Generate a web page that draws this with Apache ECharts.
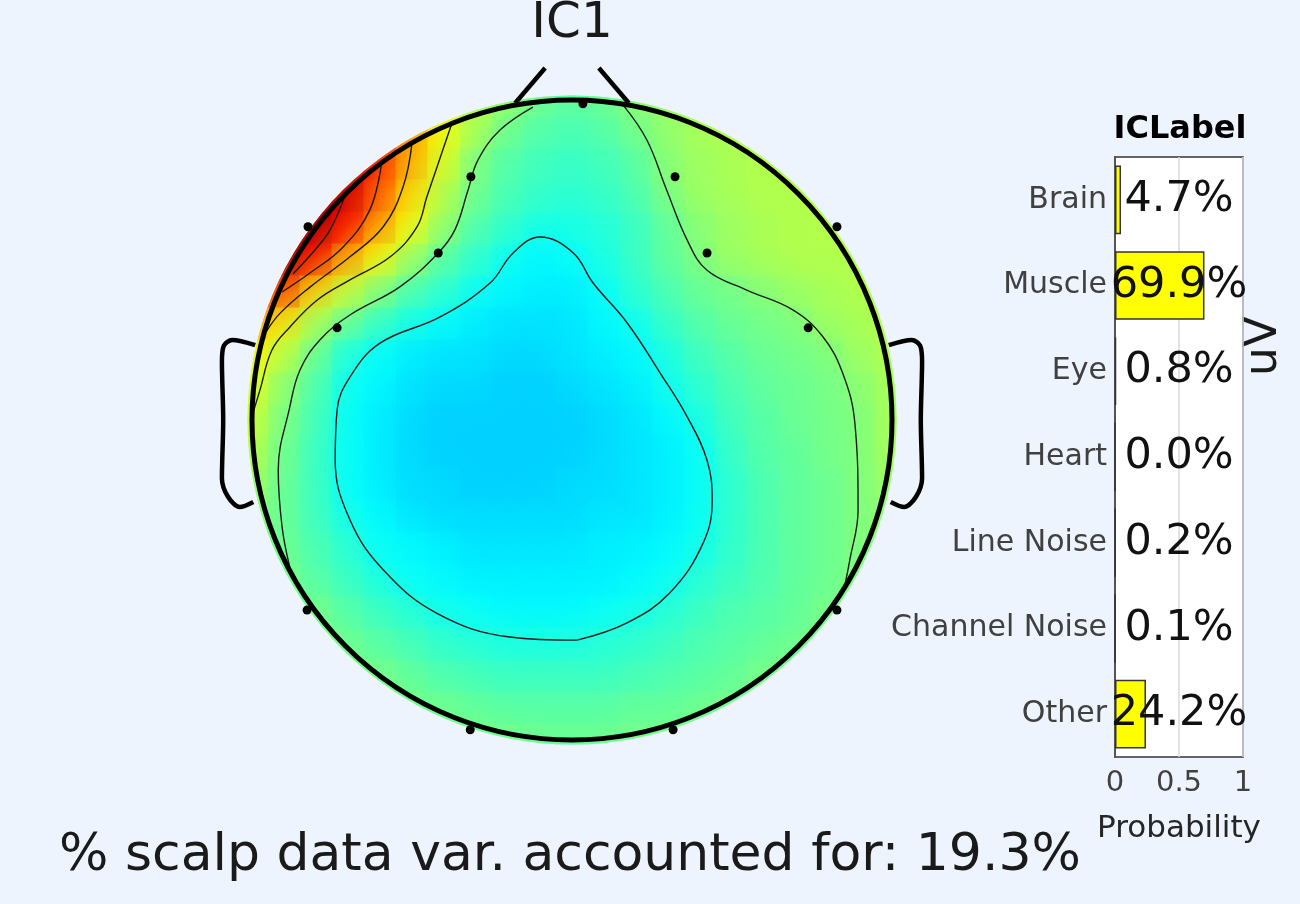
<!DOCTYPE html>
<html>
<head>
<meta charset="utf-8">
<script src="https://cdn.jsdelivr.net/npm/echarts@6/dist/echarts.min.js"></script>
<style>
html, body { margin: 0; background: #eef4fd; }
#chart { width: 1300px; height: 904px; }
</style>
</head>
<body>
<div id="chart"></div>
<script>
// ICLabel probabilities
const categories = ['Brain', 'Muscle', 'Eye', 'Heart', 'Line Noise', 'Channel Noise', 'Other'];
const probabilities = [0.047, 0.699, 0.008, 0.000, 0.002, 0.001, 0.242];
const probTicks = [0, 0.5, 1];
const componentName = 'IC1';
const varianceText = '% scalp data var. accounted for: 19.3%';

// scalp map on a 0.05 grid (head radius 0.5), jet scale 0-100
// rows go front (nose) to back, columns left to right
const gridStart = -0.5;
const gridStep = 0.05;
const mapRows = [
  [null,null,null,null,null,null,60,55,52,49,47,48,51,53,54,null,null,null,null,null,null],
  [null,null,null,null,82,72,62,55,49,46,45,46,49,52,54,55,55,null,null,null,null],
  [null,null,null,90,84,71,60,50,46,44,43,44,46,51,53,54,55,55,null,null,null],
  [null,null,95,93,80,66,56,49,45,43,42,43,45,50,53,54,55,55,55,null,null],
  [null,97,96,87,73,62,53,46,43,40,40,41,43,47,51,53,54,55,55,55,null],
  [null,95,88,72,63,54,47,43,39,37,38,40,43,47,50,53,54,55,55,55,null],
  [82,83,67,58,52,46,43,39,37,36,36,38,42,45,48,49,51,53,54,55,55],
  [72,65,55,49,44,40,38,36,35,35,35,37,39,43,46,48,49,50,53,54,55],
  [63,57,49,41,38,36,35,35,34,34,35,36,37,40,44,46,48,49,50,53,55],
  [60,52,46,39,37,35,34,34,33,33,34,35,36,39,42,45,47,48,49,51,54],
  [58,50,45,38,36,34,33,33,33,33,33,34,35,37,40,44,46,48,49,50,54],
  [56,49,44,38,36,34,33,33,33,33,33,34,35,36,38,43,46,47,49,50,54],
  [54,48,44,38,36,34,34,33,33,33,34,34,35,36,38,42,45,47,48,50,53],
  [52,48,44,39,37,35,34,34,34,34,34,35,35,36,38,42,45,47,48,50,52],
  [51,48,45,42,38,37,36,35,35,35,35,36,36,37,39,42,45,47,48,50,52],
  [null,50,46,43,40,38,37,36,36,36,36,36,37,38,41,43,45,47,48,50,null],
  [null,50,49,46,43,41,39,38,37,37,37,38,39,41,43,45,46,47,49,50,null],
  [null,null,50,48,46,44,42,41,40,40,40,41,42,43,45,46,47,48,50,null,null],
  [null,null,null,50,49,47,45,44,43,43,43,43,44,45,46,47,49,50,null,null,null],
  [null,null,null,null,50,49,48,47,46,46,46,46,47,47,48,49,50,null,null,null,null],
  [null,null,null,null,null,null,50,49,49,48,48,48,49,49,50,null,null,null,null,null,null]
];

// contour lines
const contourInner = [[0.008,-0.344],[0.086,-0.317],[0.153,-0.270],[0.205,-0.192],[0.219,-0.125],[0.211,-0.063],[0.180,0.005],[0.138,0.073],[0.086,0.152],[0.033,0.214],[0.002,0.261],[-0.050,0.286],[-0.092,0.261],[-0.128,0.214],[-0.206,0.161],[-0.300,0.120],[-0.347,0.067],[-0.367,0.016],[-0.370,-0.063],[-0.347,-0.156],[-0.295,-0.234],[-0.211,-0.302],[-0.097,-0.339],[0.008,-0.344]];
const contourLeft = [[-0.061,0.489],[-0.1125,0.453],[-0.147,0.406],[-0.1625,0.359],[-0.183,0.297],[-0.209,0.261],[-0.269,0.208],[-0.347,0.164],[-0.394,0.125],[-0.425,0.078],[-0.441,0.020],[-0.459,-0.078],[-0.453,-0.167],[-0.441,-0.230]];
const contourRight = [[0.080,0.492],[0.117,0.4375],[0.148,0.359],[0.180,0.281],[0.211,0.234],[0.273,0.203],[0.345,0.172],[0.392,0.130],[0.423,0.073],[0.442,-0.005],[0.447,-0.141],[0.434,-0.219],[0.427,-0.255]];
const contourYellow = [[-0.1875,0.464],[-0.211,0.395],[-0.227,0.348],[-0.242,0.302],[-0.284,0.255],[-0.347,0.219],[-0.398,0.1875],[-0.441,0.145],[-0.469,0.109],[-0.4875,0.047],[-0.497,0.016]];
const contourOrange = [[-0.25,0.433],[-0.264,0.364],[-0.295,0.302],[-0.347,0.255],[-0.409,0.208],[-0.456,0.167],[-0.478,0.1375]];
const contourRed = [[-0.298,0.398],[-0.316,0.328],[-0.358,0.270],[-0.409,0.230],[-0.453,0.200]];
const contourDark = [[-0.356,0.347],[-0.378,0.297],[-0.398,0.270],[-0.436,0.228]];

// electrodes
const electrodeX = [0.017, -0.158, 0.161, -0.4125, 0.414, -0.209, 0.211, -0.367, 0.369, -0.414, 0.414, -0.159, 0.158];
const electrodeY = [0.494, 0.380, 0.380, 0.302, 0.302, 0.261, 0.261, 0.144, 0.144, -0.297, -0.297, -0.484, -0.484];

// head outline pieces
const earX = [-0.495, -0.531, -0.544, -0.547, -0.545, -0.547, -0.5375, -0.519, -0.498];
const earY = [0.117, 0.125, 0.116, 0.091, 0, -0.091, -0.120, -0.136, -0.128];
const noseLeft = [[-0.089, 0.495], [-0.042, 0.55]];
const noseRight = [[0.089, 0.495], [0.042, 0.55]];

const jet = ['#00007f', '#0000ff', '#007fff', '#00ffff', '#7fff7f', '#ffff00', '#ff7f00', '#ff0000', '#7f0000'];
const font = 'DejaVu Sans';
const headRadius = 0.5;
const clipRadius = 0.507;

const cells = [];
mapRows.forEach((row, j) => {
    row.forEach((v, i) => {
        if (v != null) cells.push([gridStart + i * gridStep, -gridStart - j * gridStep, v]);
    });
});

function headClip(api) {
    const o = api.coord([0, 0]);
    const r = api.size([clipRadius, 0])[0];
    return { type: 'circle', shape: { cx: o[0], cy: o[1], r: r } };
}

function renderCell(params, api) {
    const c = api.coord([api.value(0), api.value(1)]);
    const s = api.size([gridStep, gridStep]);
    return {
        type: 'rect',
        shape: { x: c[0] - s[0] / 2 - 0.5, y: c[1] - s[1] / 2 - 0.5, width: s[0] + 1, height: s[1] + 1 },
        style: { fill: api.visual('color') },
        clipPath: headClip(api)
    };
}

// soft pass on top so the cells blend into each other
function renderSplat(params, api) {
    const c = api.coord([api.value(0), api.value(1)]);
    const s = api.size([gridStep, gridStep]);
    const col = api.visual('color');
    return {
        type: 'circle',
        shape: { cx: c[0], cy: c[1], r: s[0] * 1.5 },
        style: {
            fill: {
                type: 'radial', x: 0.5, y: 0.5, r: 0.5,
                colorStops: [
                    { offset: 0, color: echarts.color.modifyAlpha(col, 0.55) },
                    { offset: 0.5, color: echarts.color.modifyAlpha(col, 0.25) },
                    { offset: 1, color: echarts.color.modifyAlpha(col, 0) }
                ]
            }
        },
        clipPath: headClip(api)
    };
}

function renderHead(params, api) {
    const o = api.coord([0, 0]);
    const r = api.size([headRadius, 0])[0];
    return {
        type: 'circle',
        shape: { cx: o[0], cy: o[1], r: r },
        style: { fill: 'none', stroke: '#000', lineWidth: 5 }
    };
}

const chart = echarts.init(document.getElementById('chart'));

const outline = { color: '#000', width: 4.5 };
const contourStyle = { color: '#1a1a1a', width: 1.4 };

const contourSeries = [contourInner, contourLeft, contourRight, contourYellow, contourOrange, contourRed, contourDark].map(d => ({
    type: 'line', xAxisIndex: 0, yAxisIndex: 0, data: d,
    smooth: 0.4, symbol: 'none', lineStyle: contourStyle, z: 3, silent: true
}));

const option = {
    backgroundColor: '#eef4fd',
    animation: false,
    textStyle: { fontFamily: font },
    grid: [
        { left: 213.6, top: 61.6, width: 716.8, height: 716.8 },
        { left: 1115, top: 157, width: 128, height: 600, show: true, backgroundColor: '#ffffff', borderColor: '#333', borderWidth: 1.5 }
    ],
    visualMap: {
        show: false, type: 'continuous', min: 0, max: 100,
        dimension: 2, seriesIndex: [0, 1],
        inRange: { color: jet }
    },
    xAxis: [
        { gridIndex: 0, type: 'value', min: -0.56, max: 0.56, show: false },
        {
            gridIndex: 1, type: 'value', min: probTicks[0], max: probTicks[2], interval: probTicks[1],
            axisLine: { show: false },
            axisTick: { inside: true, length: 5, lineStyle: { color: '#333' } },
            axisLabel: { fontSize: 29, color: '#404040', margin: 12 },
            splitLine: { show: true, lineStyle: { color: '#dadada', width: 1.5 } },
            name: 'Probability', nameLocation: 'middle', nameGap: 56,
            nameTextStyle: { fontSize: 31, color: '#262626' }
        },
        {
            gridIndex: 1, type: 'value', min: probTicks[0], max: probTicks[2], interval: probTicks[1], position: 'top',
            axisLine: { show: false },
            axisTick: { inside: true, length: 5, lineStyle: { color: '#333' } },
            axisLabel: { show: false }, splitLine: { show: false }
        }
    ],
    yAxis: [
        { gridIndex: 0, type: 'value', min: -0.56, max: 0.56, show: false },
        {
            gridIndex: 1, type: 'category', data: categories, inverse: true,
            axisLine: { lineStyle: { color: '#333', width: 1.5 } },
            axisTick: { inside: true, alignWithLabel: true, length: 5, lineStyle: { color: '#333' } },
            axisLabel: { fontSize: 30, color: '#404040', margin: 8 }
        },
        {
            gridIndex: 1, type: 'category', data: categories, inverse: true, position: 'right',
            axisLine: { show: false },
            axisTick: { inside: true, alignWithLabel: true, length: 5, lineStyle: { color: '#333' } },
            axisLabel: { show: false }
        }
    ],
    series: [
        { type: 'custom', xAxisIndex: 0, yAxisIndex: 0, data: cells, renderItem: renderCell, z: 1, silent: true },
        { type: 'custom', xAxisIndex: 0, yAxisIndex: 0, data: cells, renderItem: renderSplat, z: 2, silent: true },
        ...contourSeries,
        { type: 'custom', xAxisIndex: 0, yAxisIndex: 0, data: [[0, 0]], renderItem: renderHead, z: 4, silent: true },
        { type: 'line', xAxisIndex: 0, yAxisIndex: 0, data: earX.map((x, i) => [x, earY[i]]), smooth: 0.3, symbol: 'none', lineStyle: outline, z: 4 },
        { type: 'line', xAxisIndex: 0, yAxisIndex: 0, data: earX.map((x, i) => [-x, earY[i]]), smooth: 0.3, symbol: 'none', lineStyle: outline, z: 4 },
        { type: 'line', xAxisIndex: 0, yAxisIndex: 0, data: noseLeft, symbol: 'none', lineStyle: outline, z: 4 },
        { type: 'line', xAxisIndex: 0, yAxisIndex: 0, data: noseRight, symbol: 'none', lineStyle: outline, z: 4 },
        {
            type: 'scatter', xAxisIndex: 0, yAxisIndex: 0,
            data: electrodeX.map((x, i) => [x, electrodeY[i]]),
            symbolSize: 9, itemStyle: { color: '#000', opacity: 1 }, z: 5
        },
        {
            type: 'bar', xAxisIndex: 1, yAxisIndex: 1, data: probabilities, barWidth: '80%',
            itemStyle: { color: '#ffff00', borderColor: '#333', borderWidth: 1.5 }
        },
        {
            type: 'scatter', xAxisIndex: 1, yAxisIndex: 1,
            data: probabilities.map((p, i) => [0.5, categories[i], p]),
            symbolSize: 1, itemStyle: { color: 'rgba(0,0,0,0)', opacity: 1 }, z: 6,
            label: {
                show: true, position: 'inside', fontSize: 43, color: '#111',
                formatter: p => (p.value[2] * 100).toFixed(1) + '%'
            }
        }
    ],
    graphic: [
        { type: 'text', x: 572, y: 24, style: { text: componentName, font: '50px "DejaVu Sans"', fill: '#1a1a1a', align: 'center', verticalAlign: 'middle' } },
        { type: 'text', x: 570, y: 856, style: { text: varianceText, font: '52px "DejaVu Sans"', fill: '#1a1a1a', align: 'center', verticalAlign: 'middle' } },
        { type: 'text', x: 1180, y: 130, style: { text: 'ICLabel', font: 'bold 32px "DejaVu Sans"', fill: '#000', align: 'center', verticalAlign: 'middle' } },
        { type: 'text', x: 1264, y: 346, rotation: Math.PI / 2, style: { text: 'uV', font: '46px "DejaVu Sans"', fill: '#1a1a1a', align: 'center', verticalAlign: 'middle' } }
    ]
};

chart.setOption(option);
</script>
</body>
</html>
